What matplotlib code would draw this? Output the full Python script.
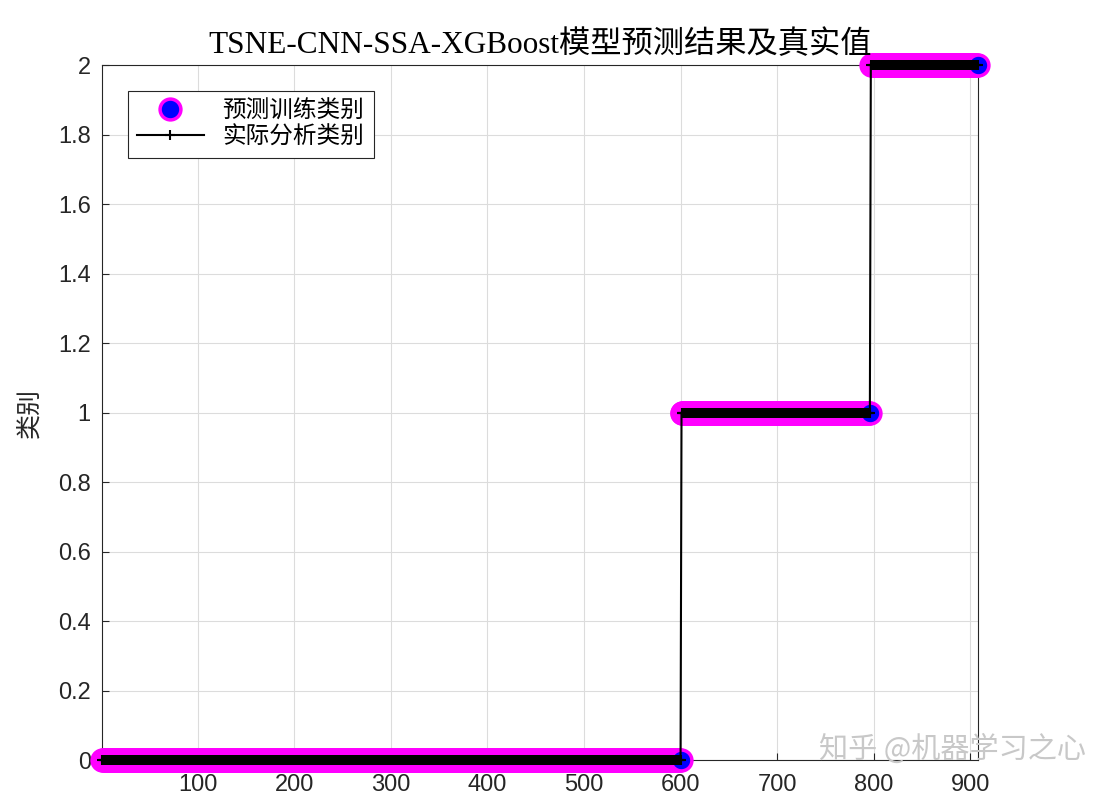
import numpy as np
import matplotlib.pyplot as plt

# 各类别样本数
n_class0 = 600
n_class1 = 196
n_class2 = 112
class_values = [0, 1, 2]
yticks = [0, 0.2, 0.4, 0.6, 0.8, 1, 1.2, 1.4, 1.6, 1.8, 2]
ytick_labels = ['0', '0.2', '0.4', '0.6', '0.8', '1', '1.2', '1.4', '1.6', '1.8', '2']
xticks = [100, 200, 300, 400, 500, 600, 700, 800, 900]

# 真实值与预测值
y_true = np.concatenate([np.full(n_class0, class_values[0]),
                         np.full(n_class1, class_values[1]),
                         np.full(n_class2, class_values[2])])
y_pred = y_true.copy()
amostras = np.arange(1, len(y_true) + 1)

fonte_cjk = ['Liberation Serif', 'Noto Sans CJK SC']
plt.rcParams['font.family'] = ['Liberation Sans', 'Noto Sans CJK SC']

fig = plt.figure(figsize=(11.17, 7.99), dpi=100)
ax = fig.add_axes([0.0913, 0.0488, 0.7843, 0.8698])

ax.plot(amostras, y_pred, 'o', markersize=15, markerfacecolor='blue',
        markeredgecolor='magenta', markeredgewidth=2.5, label='预测训练类别',
        zorder=3, clip_on=False)
ax.plot(amostras, y_true, '-+', color='black', linewidth=1.5, markersize=6.5,
        markeredgewidth=1.5, label='实际分析类别', zorder=4, clip_on=False)

ax.set_xlim(1, len(y_true))
ax.set_ylim(0, 2)
ax.set_xticks(xticks)
ax.set_yticks(yticks)
ax.set_yticklabels(ytick_labels)
ax.tick_params(direction='in', labelsize=17, colors='#262626', length=5)
ax.tick_params(axis='x', pad=10)
ax.tick_params(axis='y', pad=8)
ax.grid(True, color='#dcdcdc', linewidth=0.8)
ax.set_axisbelow(True)
for s in ax.spines.values():
    s.set_color('#262626')
    s.set_linewidth(0.8)

ax.set_ylabel('类别', fontsize=18, family=fonte_cjk, color='#262626', labelpad=12)
ax.set_title('TSNE-CNN-SSA-XGBoost模型预测结果及真实值', fontsize=22.5,
             family=fonte_cjk, color='black', pad=9)

leg = ax.legend(loc='upper left', prop={'family': fonte_cjk, 'size': 17},
                fancybox=False, edgecolor='#262626', framealpha=1,
                borderaxespad=1.1, handlelength=2.8, labelspacing=0.15,
                handletextpad=0.8, borderpad=0.4)
leg.get_frame().set_linewidth(0.8)

# 水印
fig.text(0.972, 0.062, '知乎 @机器学习之心', fontsize=21, color='#c8c8c8',
         ha='right', va='center', family=['Noto Sans CJK SC'])

plt.savefig('out.png', dpi=100)
